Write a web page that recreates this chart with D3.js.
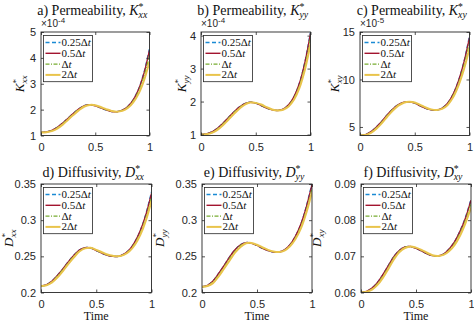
<!DOCTYPE html>
<html>
<head>
<meta charset="utf-8">
<script src="https://cdn.jsdelivr.net/npm/d3@7"></script>
<style>
  body { margin: 0; background: #fff; }
  svg { display: block; }
</style>
</head>
<body>
<svg id="fig" width="474" height="321"></svg>
<script>
// time samples shared by every curve
const timePts = [0, 0.05, 0.1, 0.15, 0.2, 0.25, 0.3, 0.35, 0.4, 0.45, 0.5,
                 0.55, 0.6, 0.65, 0.7, 0.75, 0.8, 0.85, 0.9, 0.95, 1];

const stepNames = ["0.25Δ", "0.5Δ", "Δ", "2Δ"];

// permeability K*_xx (x 1e-4)
const kxxQuarter = [1.12,1.14,1.20,1.32,1.48,1.67,1.86,2.03,2.15,2.19,2.15,2.07,1.99,1.93,1.92,1.98,2.12,2.38,2.80,3.45,4.36];
const kxxHalf    = [1.12,1.14,1.20,1.32,1.48,1.67,1.86,2.03,2.15,2.19,2.15,2.07,1.99,1.93,1.92,1.98,2.12,2.38,2.79,3.42,4.30];
const kxxOne     = [1.12,1.13,1.19,1.30,1.46,1.65,1.84,2.01,2.14,2.19,2.16,2.08,2.00,1.94,1.92,1.97,2.10,2.34,2.72,3.30,4.10];
const kxxTwo     = [1.12,1.13,1.17,1.27,1.42,1.61,1.80,1.98,2.12,2.18,2.17,2.10,2.02,1.95,1.92,1.95,2.06,2.28,2.62,3.14,3.86];

// permeability K*_yy (x 1e-4)
const kyyQuarter = [1.00,1.02,1.08,1.19,1.34,1.51,1.68,1.83,1.94,1.98,1.95,1.88,1.80,1.75,1.73,1.77,1.90,2.15,2.57,3.22,4.10];
const kyyHalf    = [1.00,1.02,1.08,1.19,1.34,1.51,1.68,1.83,1.94,1.98,1.95,1.88,1.80,1.75,1.73,1.77,1.90,2.15,2.56,3.20,4.07];
const kyyOne     = [1.00,1.01,1.07,1.17,1.32,1.49,1.66,1.81,1.93,1.98,1.96,1.89,1.81,1.75,1.73,1.76,1.88,2.11,2.50,3.10,3.92];
const kyyTwo     = [1.00,1.01,1.05,1.14,1.28,1.45,1.62,1.78,1.91,1.97,1.96,1.91,1.83,1.76,1.73,1.75,1.85,2.06,2.42,2.98,3.75];

// permeability K*_xy (x 1e-5)
const kxyQuarter = [4.10,4.20,4.50,5.00,5.60,6.30,6.90,7.35,7.60,7.65,7.50,7.22,6.96,6.80,6.78,6.98,7.50,8.45,9.90,11.9,14.6];
const kxyHalf    = [4.10,4.20,4.50,5.00,5.60,6.30,6.90,7.35,7.60,7.65,7.50,7.22,6.96,6.80,6.78,6.98,7.50,8.45,9.88,11.85,14.4];
const kxyOne     = [4.10,4.17,4.45,4.92,5.52,6.22,6.84,7.30,7.58,7.66,7.54,7.27,7.00,6.82,6.78,6.95,7.42,8.30,9.65,11.5,13.9];
const kxyTwo     = [4.10,4.15,4.38,4.82,5.40,6.10,6.74,7.24,7.55,7.66,7.58,7.33,7.05,6.85,6.78,6.90,7.32,8.12,9.38,11.1,13.3];

// diffusivity D*_xx
const dxxQuarter = [0.209,0.211,0.216,0.224,0.233,0.243,0.252,0.259,0.262,0.2615,0.258,0.2545,0.2515,0.250,0.250,0.253,0.259,0.270,0.286,0.309,0.339];
const dxxHalf    = [0.209,0.211,0.216,0.224,0.233,0.243,0.252,0.259,0.262,0.2615,0.258,0.2545,0.2515,0.250,0.250,0.253,0.259,0.270,0.286,0.308,0.337];
const dxxOne     = [0.209,0.210,0.215,0.223,0.232,0.242,0.251,0.258,0.2615,0.2617,0.2585,0.255,0.252,0.2503,0.250,0.2525,0.258,0.268,0.283,0.304,0.332];
const dxxTwo     = [0.209,0.210,0.214,0.221,0.230,0.240,0.249,0.257,0.261,0.2618,0.259,0.2557,0.2525,0.2507,0.250,0.252,0.257,0.266,0.280,0.300,0.327];

// diffusivity D*_yy
const dyyQuarter = [0.208,0.210,0.216,0.226,0.237,0.249,0.259,0.266,0.269,0.268,0.265,0.261,0.258,0.256,0.256,0.259,0.266,0.278,0.295,0.320,0.351];
const dyyHalf    = [0.208,0.210,0.216,0.226,0.237,0.249,0.259,0.266,0.269,0.268,0.265,0.261,0.258,0.256,0.256,0.259,0.266,0.278,0.295,0.319,0.349];
const dyyOne     = [0.208,0.209,0.215,0.224,0.235,0.247,0.257,0.265,0.2685,0.2683,0.2655,0.2617,0.2585,0.2563,0.256,0.2585,0.265,0.276,0.292,0.315,0.344];
const dyyTwo     = [0.208,0.209,0.213,0.222,0.233,0.244,0.255,0.263,0.268,0.2685,0.266,0.2625,0.259,0.2567,0.256,0.258,0.264,0.274,0.289,0.311,0.339];

// diffusivity D*_xy
const dxyQuarter = [0.0600,0.0603,0.0612,0.0628,0.0650,0.0675,0.0700,0.0717,0.0726,0.0727,0.0722,0.0715,0.0707,0.0702,0.0701,0.0706,0.0720,0.0740,0.0770,0.0808,0.0858];
const dxyHalf    = [0.0600,0.0603,0.0612,0.0628,0.0650,0.0675,0.0700,0.0717,0.0726,0.0727,0.0722,0.0715,0.0707,0.0702,0.0701,0.0706,0.0720,0.0740,0.0769,0.0806,0.0855];
const dxyOne     = [0.0600,0.0602,0.0610,0.0625,0.0646,0.0671,0.0697,0.0715,0.0725,0.0727,0.0723,0.0716,0.0708,0.0702,0.0701,0.0705,0.0717,0.0736,0.0764,0.0800,0.0846];
const dxyTwo     = [0.0600,0.0602,0.0608,0.0621,0.0641,0.0666,0.0692,0.0712,0.0723,0.0727,0.0724,0.0718,0.0710,0.0703,0.0701,0.0704,0.0714,0.0731,0.0757,0.0792,0.0835];

const xTicks = [0, 0.5, 1];

const panels = [
  { tag: "a) Permeability, ", sym: "K", sub: "xx", series: [kxxQuarter, kxxHalf, kxxOne, kxxTwo],
    yDomain: [1, 5], yTicks: [1, 2, 3, 4, 5], exp: "-4",
    box: [41, 32, 108.5, 103.5], yLabOff: 17 },
  { tag: "b) Permeability, ", sym: "K", sub: "yy", series: [kyyQuarter, kyyHalf, kyyOne, kyyTwo],
    yDomain: [0.97, 4.11], yTicks: [1, 2, 3, 4], exp: "-4",
    box: [201, 32, 109.5, 103.5], yLabOff: 15 },
  { tag: "c) Permeability, ", sym: "K", sub: "xy", series: [kxyQuarter, kxyHalf, kxyOne, kxyTwo],
    yDomain: [4.1, 15], yTicks: [5, 10, 15], exp: "-5",
    box: [360, 32, 109.5, 103.5], yLabOff: 21 },
  { tag: "d) Diffusivity, ", sym: "D", sub: "xx", series: [dxxQuarter, dxxHalf, dxxOne, dxxTwo],
    yDomain: [0.2, 0.35], yTicks: [0.2, 0.25, 0.3, 0.35], time: true,
    box: [41, 184, 110.5, 108.5], yLabOff: 28 },
  { tag: "e) Diffusivity, ", sym: "D", sub: "yy", series: [dyyQuarter, dyyHalf, dyyOne, dyyTwo],
    yDomain: [0.2, 0.35], yTicks: [0.2, 0.25, 0.3, 0.35], time: true,
    box: [202, 184, 110, 108.5], yLabOff: 38 },
  { tag: "f) Diffusivity, ", sym: "D", sub: "xy", series: [dxyQuarter, dxyHalf, dxyOne, dxyTwo],
    yDomain: [0.06, 0.09], yTicks: [0.06, 0.07, 0.08, 0.09], time: true,
    box: [361, 184, 110, 108.5], yLabOff: 40 }
];

// line styles in plotting order (last one ends up on top)
const styles = [
  { color: "#1a8ad4", width: 1.4, dash: "4,2.5" },
  { color: "#a2142f", width: 1.4, dash: null },
  { color: "#77ac30", width: 1.2, dash: "4,1.5,1,1.5" },
  { color: "#e9c44c", width: 2.0, dash: null }
];

const SANS = "'Liberation Sans', Arial, Helvetica, sans-serif";
const SERIF = "'Liberation Serif', 'Times New Roman', 'DejaVu Serif', serif";
const axisColor = "#262626";

const svg = d3.select("#fig");

// italic symbol with a stacked * superscript and subscript, LaTeX style
function mathSym(text, sym, sub, size) {
  text.append("tspan").attr("font-style", "italic").text(sym);
  const star = text.append("tspan").attr("font-size", size * 0.7).attr("dy", -size * 0.38).text("*");
  const w = star.node().getComputedTextLength();
  text.append("tspan").attr("font-style", "italic").attr("font-size", size * 0.7)
    .attr("dx", -w).attr("dy", size * 0.62).text(sub);
}

panels.forEach(function(p, pi) {
  const [bx, by, bw, bh] = p.box;
  const g = svg.append("g").attr("transform", `translate(${bx},${by})`);

  const x = d3.scaleLinear().domain([0, 1]).range([0, bw]);
  const y = d3.scaleLinear().domain(p.yDomain).range([bh, 0]);

  const clipId = "clip" + pi;
  g.append("clipPath").attr("id", clipId)
    .append("rect").attr("width", bw).attr("height", bh);

  // curves
  const line = d3.line()
    .x((d, i) => x(timePts[i]))
    .y(d => y(d))
    .curve(d3.curveCatmullRom.alpha(0.5));

  const curves = g.append("g").attr("clip-path", `url(#${clipId})`);
  p.series.forEach(function(vals, si) {
    const st = styles[si];
    curves.append("path")
      .datum(vals)
      .attr("d", line)
      .attr("fill", "none")
      .attr("stroke", st.color)
      .attr("stroke-width", st.width)
      .attr("stroke-dasharray", st.dash);
  });

  // axes, ticks pointing inward, mirrored on the box
  const tickLen = 3;
  const xAx = g.append("g").attr("transform", `translate(0,${bh})`)
    .call(d3.axisBottom(x).tickValues(xTicks).tickSize(-tickLen).tickPadding(8)
      .tickFormat(d3.format("")));
  g.append("g")
    .call(d3.axisLeft(y).tickValues(p.yTicks).tickSize(-tickLen).tickPadding(5)
      .tickFormat(d3.format("")));
  g.append("g").attr("transform", `translate(${bw},0)`)
    .call(d3.axisRight(y).tickValues(p.yTicks).tickSize(-tickLen).tickFormat(""));
  g.append("g")
    .call(d3.axisTop(x).tickValues(xTicks).tickSize(-tickLen).tickFormat(""));

  g.selectAll("g").attr("font-family", SANS).attr("font-size", 11);
  g.selectAll(".domain").remove();
  g.selectAll(".tick line").attr("stroke", axisColor).attr("stroke-width", 0.8);
  g.selectAll(".tick text").attr("fill", axisColor);
  xAx.selectAll(".tick text").attr("dy", "0.71em");

  g.append("rect")
    .attr("width", bw).attr("height", bh)
    .attr("fill", "none").attr("stroke", axisColor).attr("stroke-width", 0.9);

  // exponent label above the axis
  if (p.exp) {
    const ex = g.append("text").attr("x", 0).attr("y", -5)
      .attr("font-family", SANS).attr("font-size", 10).attr("fill", axisColor);
    ex.append("tspan").text("×10");
    ex.append("tspan").attr("font-size", 8).attr("dy", -4).text(p.exp);
  }

  // title
  const title = g.append("text")
    .attr("x", bw / 2 - 3).attr("y", p.exp ? -17 : -7)
    .attr("text-anchor", "middle")
    .attr("font-family", SERIF).attr("font-size", 14).attr("fill", "#111");
  title.append("tspan").text(p.tag);
  mathSym(title, p.sym, p.sub, 14);

  // y label
  const ylab = g.append("text")
    .attr("transform", `translate(${-p.yLabOff},${bh / 2}) rotate(-90)`)
    .attr("text-anchor", "middle")
    .attr("font-family", SERIF).attr("font-size", 13).attr("fill", "#111");
  mathSym(ylab, p.sym, p.sub, 13);

  if (p.time) {
    g.append("text")
      .attr("x", bw / 2).attr("y", bh + 27)
      .attr("text-anchor", "middle")
      .attr("font-family", SERIF).attr("font-size", 12).attr("fill", "#111")
      .text("Time");
  }

  // legend
  const lg = g.append("g").attr("transform", "translate(2.5,3.5)");
  const rowH = 10.8;
  lg.append("rect").attr("width", 49).attr("height", 4 * rowH + 3)
    .attr("fill", "#fff").attr("stroke", axisColor).attr("stroke-width", 0.8);
  stepNames.forEach(function(name, si) {
    const st = styles[si];
    const yy = 7 + si * rowH;
    lg.append("line").attr("x1", 2).attr("x2", 17).attr("y1", yy).attr("y2", yy)
      .attr("stroke", st.color).attr("stroke-width", st.width)
      .attr("stroke-dasharray", st.dash);
    const t = lg.append("text").attr("x", 18).attr("y", yy + 3.5)
      .attr("font-family", SERIF).attr("font-size", 11).attr("fill", "#111");
    t.append("tspan").text(name);
    t.append("tspan").attr("font-style", "italic").text("t");
  });
});
</script>
</body>
</html>
